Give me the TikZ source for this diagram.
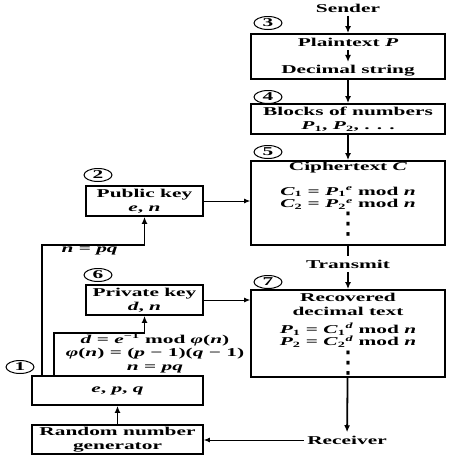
\documentclass[tikz,border=0pt]{standalone}
\usepackage{fontspec}
\setmainfont{Liberation Serif}[FakeStretch=1.78]
\newfontfamily\dotsfont{DejaVu Sans}
\usetikzlibrary{arrows.meta,shapes.geometric}
\newcommand{\subsup}[2]{\textsubscript{#1}\textsuperscript{#2}}

\begin{document}
\begin{tikzpicture}[x=1pt,y=-1pt,
  every node/.style={font=\fontsize{12}{14}\selectfont\bfseries},
  box/.style={draw, line width=1.8pt, inner sep=0pt, align=center},
  num/.style={draw, ellipse, line width=1pt, minimum width=28pt, minimum height=13pt, inner sep=0pt},
  formula/.style={align=center, inner sep=0pt, font=\fontsize{12}{12.5}\selectfont\bfseries},
  vdotsnode/.style={inner sep=0pt, font=\fontsize{30}{30}\dotsfont},
  thickarr/.style={line width=1.8pt, -{Latex[length=7pt,width=6pt]}},
  thinarr/.style={line width=0.8pt, -{Latex[length=6pt,width=5pt]}}]
\useasboundingbox (0,0) rectangle (474,474);
% right column
\node (sender) at (348,8) {Sender};
\node[box, minimum width=194pt, minimum height=45pt] (plain) at (348,56.5) {};
\node (ptext) at (348,42) {Plaintext \textit{P}};
\node (dstr) at (348,71) {Decimal string};
\node[box, minimum width=194pt, minimum height=30pt] (blocks) at (348,119) {Blocks of numbers\\\textit{P}\textsubscript{1}, \textit{P}\textsubscript{2}, . . .};
\node[box, minimum width=194pt, minimum height=84pt] (cipher) at (348,203) {};
\node (ctitle) at (348,168) {Ciphertext \textit{C}};
\node[formula] (cform) at (348,198) {\textit{C}\textsubscript{1} = \textit{P}\subsup{1}{\textit{e}} mod \textit{n}\\\textit{C}\textsubscript{2} = \textit{P}\subsup{2}{\textit{e}} mod \textit{n}};
\node[vdotsnode] (cdots) at (348,224) {⋮};
\node (transmit) at (348,264) {Transmit};
\node[box, minimum width=194pt, minimum height=87pt] (recov) at (348,333.5) {};
\node[align=center] (rtitle) at (348,304) {Recovered\\decimal text};
\node[formula] (rform) at (348,335.5) {\textit{P}\textsubscript{1} = \textit{C}\subsup{1}{\textit{d}} mod \textit{n}\\\textit{P}\textsubscript{2} = \textit{C}\subsup{2}{\textit{d}} mod \textit{n}};
\node[vdotsnode] (rdots) at (348,363) {⋮};
\node (receiver) at (347,440) {Receiver};
% left column
\node[box, minimum width=117pt, minimum height=30pt] (pub) at (144.5,201) {Public key\\\textit{e}, \textit{n}};
\node[box, minimum width=117pt, minimum height=30pt] (priv) at (144.5,300) {Private key\\\textit{d}, \textit{n}};
\node[box, minimum width=171pt, minimum height=29pt] (epq) at (117.5,390.5) {\textit{e}, \textit{p}, \textit{q}};
\node[box, minimum width=171pt, minimum height=29pt] (rng) at (117.5,439.5) {Random number\\generator};
\node[anchor=west] (lbln) at (58,251) {\textit{n} = \textit{pq}};
\node[formula, font=\fontsize{12}{13.5}\selectfont\bfseries] (lblkeys) at (155,353) {\textit{d} = \textit{e}\textsuperscript{−1} mod \textit{φ}(\textit{n})\\\textit{φ}(\textit{n}) = (\textit{p} − 1)(\textit{q} − 1)\\\textit{n} = \textit{pq}};
% step numbers
\node[num] (n1) at (20,367) {1};
\node[num] (n2) at (98,175) {2};
\node[num] (n3) at (268,23) {3};
\node[num] (n4) at (268,97) {4};
\node[num] (n5) at (268,152) {5};
\node[num] (n6) at (98,275) {6};
\node[num] (n7) at (268,282) {7};
% connectors
\draw[thickarr] (sender) -- (plain);
\draw[thickarr] (ptext) -- (dstr);
\draw[thickarr] (plain) -- (blocks);
\draw[thickarr] (blocks) -- (cipher);
\draw[line width=1.8pt] (cipher) -- (transmit);
\draw[thickarr] (transmit) -- (recov);
\draw[thickarr] (recov) -- (receiver);
\draw[thinarr] (receiver) -- (receiver -| rng.east);
\draw[thickarr] (rng) -- (epq);
\draw[thickarr] ([xshift=11pt]epq.north west) |- ([yshift=-28pt]pub.south) -- (pub.south);
\draw[thickarr] ([xshift=23pt]epq.north west) |- ([yshift=-17pt]priv.south) -- (priv.south);
\draw[thinarr] (pub.east) -- (pub.east -| cipher.west);
\draw[thinarr] (priv.east) -- (priv.east -| recov.west);
\end{tikzpicture}
\end{document}
